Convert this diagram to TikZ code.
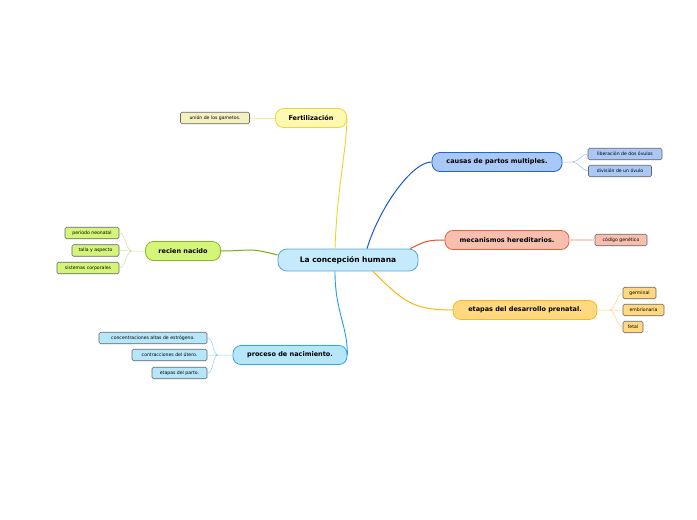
\documentclass[tikz,border=0pt]{standalone}
\usepackage{fontspec}
\setmainfont{DejaVu Sans}
\usetikzlibrary{calc}
\begin{document}
\begin{tikzpicture}[x=1pt,y=-1pt,
 main/.style={draw,line width=0.8pt,rounded corners=8pt,inner sep=0pt,font=\bfseries\fontsize{6.5}{7}\selectfont,minimum height=19pt},
 leaf/.style={draw=gray!80!black,line width=0.6pt,rounded corners=1.5pt,inner sep=0pt,font=\fontsize{4.6}{5}\selectfont,minimum height=11.5pt},
 lk/.style={line width=0.5pt}]
\useasboundingbox (0,0) rectangle (697,520);
\definecolor{cF}{HTML}{C5EAFB}\definecolor{cD}{HTML}{5AA7D8}
\node[main,fill=cF,draw=cD,minimum width=140pt,minimum height=22pt,rounded corners=9pt,font=\bfseries\fontsize{7.5}{8}\selectfont] (c) at (348,260) {La concepción humana};
\node[main,fill={rgb,255:red,255;green,248;blue,176},draw={rgb,255:red,232;green,214;blue,64},minimum width=71pt] (f) at (311,118) {Fertilización};
\node[leaf,fill={rgb,255:red,245;green,240;blue,192},minimum width=69pt] (f1) at (215,118) {unión de los gametos.};
\node[main,fill={rgb,255:red,169;green,200;blue,245},draw={rgb,255:red,30;green,100;blue,210},minimum width=130pt] (a) at (497,162) {causas de partos multiples.};
\node[leaf,fill={rgb,255:red,169;green,200;blue,245},minimum width=74pt] (a1) at (625,154) {liberación de dos óvulos};
\node[leaf,fill={rgb,255:red,169;green,200;blue,245},minimum width=63pt] (a2) at (620,171) {división de un óvulo};
\node[main,fill={rgb,255:red,248;green,191;blue,174},draw={rgb,255:red,232;green,96;blue,64},minimum width=124pt] (m) at (507,240) {mecanismos hereditarios.};
\node[leaf,fill={rgb,255:red,248;green,191;blue,174},minimum width=52pt] (m1) at (621,240) {código genético};
\node[main,fill={rgb,255:red,255;green,216;blue,128},draw={rgb,255:red,245;green,184;blue,32},minimum width=144pt] (e) at (525,310) {etapas del desarrollo prenatal.};
\node[leaf,fill={rgb,255:red,255;green,216;blue,128},minimum width=33pt] (e1) at (639.5,293) {germinal};
\node[leaf,fill={rgb,255:red,255;green,216;blue,128},minimum width=41pt] (e2) at (643.5,310) {embrionaria};
\node[leaf,fill={rgb,255:red,255;green,216;blue,128},minimum width=20pt] (e3) at (633,327) {fetal};
\node[main,fill={rgb,255:red,212;green,245;blue,122},draw={rgb,255:red,134;green,184;blue,32},minimum width=75pt] (r) at (183,251) {recien nacido};
\node[leaf,fill={rgb,255:red,212;green,245;blue,122},minimum width=54pt] (r1) at (92,233) {periodo neonatal};
\node[leaf,fill={rgb,255:red,212;green,245;blue,122},minimum width=47pt] (r2) at (95.5,250.5) {talla y aspecto};
\node[leaf,fill={rgb,255:red,212;green,245;blue,122},minimum width=62pt] (r3) at (88,268) {sistemas corporales};
\node[main,fill={rgb,255:red,181;green,230;blue,250},draw={rgb,255:red,48;green,168;blue,224},minimum width=114pt] (p) at (290,355) {proceso de nacimiento.};
\node[leaf,fill={rgb,255:red,181;green,230;blue,250},minimum width=108pt] (p1) at (153,338) {concentraciones altas de estrógeno.};
\node[leaf,fill={rgb,255:red,181;green,230;blue,250},minimum width=75pt] (p2) at (169.5,355) {contracciones del útero.};
\node[leaf,fill={rgb,255:red,181;green,230;blue,250},minimum width=55pt] (p3) at (179.5,373) {etapas del parto.};
% main branches
\begin{scope}[on background layer/.style={}]
\draw[line width=0.9pt,draw={rgb,255:red,232;green,214;blue,40}] ($(c.north)+(-13,0)$) .. controls +(2,-60) and +(0,30) .. (f.east);
\draw[line width=1pt,draw={rgb,255:red,20;green,90;blue,210}] ($(c.north)+(19,0)$) .. controls +(12,-40) and +(-20,0) .. (a.west);
\draw[line width=1pt,draw={rgb,255:red,232;green,80;blue,40}] ($(c.north east)+(-8,0)$) .. controls +(15,-8) and +(-15,0) .. (m.west);
\draw[line width=1pt,draw={rgb,255:red,250;green,180;blue,20}] ($(c.south)+(25,0)$) .. controls +(30,30) and +(-40,0) .. (e.west);
\draw[line width=1pt,draw={rgb,255:red,120;green,170;blue,20}] ($(c.west)+(0,-5)$) .. controls +(-30,-8) and +(30,0) .. (r.east);
\draw[line width=0.9pt,draw={rgb,255:red,30;green,160;blue,230}] ($(c.south)+(-13,0)$) .. controls +(0,40) and +(0,-30) .. (p.east);
\end{scope}
% leaves
\draw[lk,draw={rgb,255:red,245;green,235;blue,150}] (f.west) -- (f1.east);
\draw[lk,draw={rgb,255:red,150;green,185;blue,240}] (a.east) -- +(10,0) coordinate (aj) (aj) .. controls +(6,0) and +(-6,0) .. (a1.west) (aj) .. controls +(6,0) and +(-6,0) .. (a2.west);
\draw[lk,line width=1.5pt,draw={rgb,255:red,250;green,210;blue,200}] (m.east) -- (m1.west);
\draw[lk,draw={rgb,255:red,255;green,215;blue,120}] (e.east) -- +(12,0) coordinate (ej) -- (e2.west) (ej) .. controls +(6,0) and +(-6,0) .. (e1.west) (ej) .. controls +(6,0) and +(-6,0) .. (e3.west);
\draw[lk,draw={rgb,255:red,200;green,225;blue,150}] (r.west) -- +(-13,0) coordinate (rj) -- (r2.east) (rj) .. controls +(-6,0) and +(6,0) .. (r1.east) (rj) .. controls +(-6,0) and +(6,0) .. (r3.east);
\draw[lk,draw={rgb,255:red,140;green,210;blue,240}] (p.west) -- +(-14,0) coordinate (pj) -- (p2.east) (pj) .. controls +(-7,0) and +(7,0) .. (p1.east) (pj) .. controls +(-7,0) and +(7,0) .. (p3.east);
\end{tikzpicture}
\end{document}
